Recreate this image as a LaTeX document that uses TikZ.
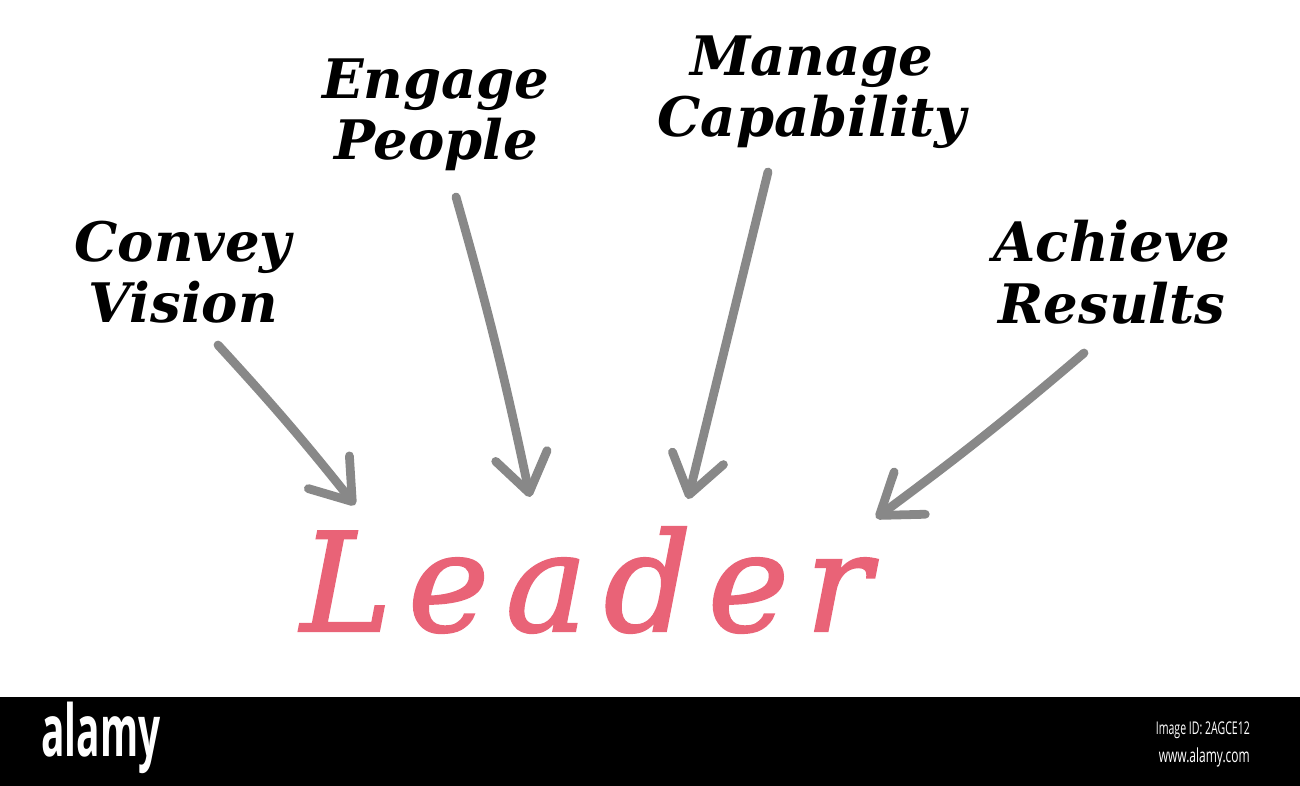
\documentclass[tikz,border=0pt]{standalone}
\usepackage{fontspec}
\setmainfont{DejaVu Serif}
\newfontfamily\barfont{Open Sans}
\usetikzlibrary{arrows.meta}
\definecolor{leaderpink}{RGB}{233,99,119}
\definecolor{arrowgray}{RGB}{136,136,136}

\begin{document}
\begin{tikzpicture}[x=0.02cm, y=-0.02cm,
	task/.style={align=center, font=\fontsize{31}{35}\selectfont\itshape\bfseries, text=black, inner sep=0pt},
	link/.style={draw=arrowgray, line width=5pt, line cap=round,
		-{Straight Barb[length=7.5mm, width=10.5mm, round]}}]
	\useasboundingbox (0,0) rectangle (1300,786);
	% the four tasks
	\node[task] (cv) at (183,272) {Convey\\Vision};
	\node[task] (ep) at (436,115) {Engage\\People};
	\node[task] (mc) at (812,92) {Manage\\Capability};
	\node[task] (ar) at (1112,272) {Achieve\\Results};
	\node[font=\fontsize{78}{80}\selectfont\itshape\addfontfeatures{LetterSpace=12,FakeBold=1.6}, text=leaderpink, inner sep=0pt] (leader) at (586,580) {Leader};
	% arrow ends
	\coordinate (cvtail) at (218,345);
	\coordinate (cvhead) at (355,505);
	\coordinate (eptail) at (456,197);
	\coordinate (ephead) at (530,497);
	\coordinate (mctail) at (768,172);
	\coordinate (mchead) at (688,499);
	\coordinate (artail) at (1084,353);
	\coordinate (arhead) at (876,518);
	\draw[link] (cvtail) to[bend left=2] (cvhead);
	\draw[link] (eptail) to[bend left=2] (ephead);
	\draw[link] (mctail) -- (mchead);
	\draw[link] (artail) to[bend left=2] (arhead);
	% watermark bar
	\fill[black] (0,697) rectangle (1300,786);
	\node[text=white, font=\barfont\bfseries\fontsize{34}{34}\selectfont, xscale=0.65, yscale=1.2, inner sep=0pt] (brand) at (101,738) {alamy};
	\node[text=white, font=\barfont\fontsize{10}{10}\selectfont, xscale=0.6, inner sep=0pt, anchor=east] (imgid) at (1250,730) {Image ID: 2AGCE12};
	\node[text=white, font=\barfont\fontsize{11}{11}\selectfont, xscale=0.62, inner sep=0pt, anchor=east] (site) at (1250,757) {www.alamy.com};
\end{tikzpicture}
\end{document}
